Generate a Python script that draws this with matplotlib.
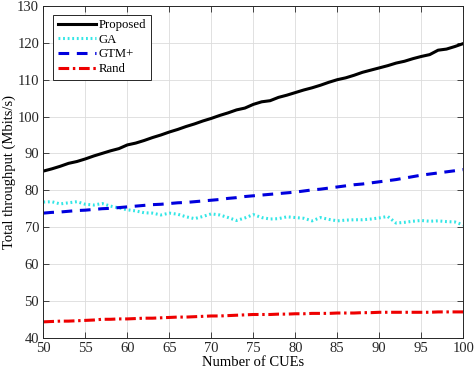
import numpy as np
import matplotlib.pyplot as plt

plt.rcParams['font.family'] = ['Liberation Serif', 'DejaVu Serif']

num_cues = list(range(50, 101))

proposed = [85.2, 85.8, 86.5, 87.3, 87.8, 88.5, 89.3, 90.0, 90.7, 91.3,
            92.3, 92.8, 93.5, 94.3, 95.0, 95.8, 96.5, 97.3, 98.0, 98.8,
            99.5, 100.3, 101.0, 101.8, 102.3, 103.3, 104.0, 104.3, 105.2, 105.8,
            106.5, 107.2, 107.8, 108.5, 109.3, 110.0, 110.5, 111.2, 112.0, 112.6,
            113.2, 113.8, 114.5, 115.0, 115.7, 116.3, 116.8, 118.0, 118.3, 119.0,
            119.8]

ga = [76.8, 76.9, 76.3, 76.6, 76.9, 76.2, 76.0, 76.4, 75.7, 75.2,
      74.7, 74.4, 73.9, 73.8, 73.3, 73.8, 73.5, 72.8, 72.3, 72.9,
      73.6, 73.3, 72.6, 71.8, 72.5, 73.4, 72.6, 72.2, 72.3, 72.8,
      72.6, 72.4, 71.7, 72.6, 72.1, 71.7, 71.9, 72.0, 72.0, 72.2,
      72.5, 72.9, 71.1, 71.3, 71.6, 71.8, 71.6, 71.7, 71.5, 71.4,
      70.6]

gtm = [73.8, 74.0, 74.1, 74.3, 74.5, 74.6, 74.8, 75.0, 75.1, 75.3,
       75.5, 75.7, 75.9, 76.1, 76.2, 76.4, 76.6, 76.7, 76.9, 77.1,
       77.3, 77.5, 77.8, 78.0, 78.3, 78.5, 78.7, 78.9, 79.1, 79.3,
       79.5, 79.8, 80.1, 80.3, 80.6, 80.9, 81.2, 81.5, 81.7, 82.0,
       82.3, 82.6, 82.9, 83.3, 83.7, 84.1, 84.4, 84.7, 85.0, 85.3,
       85.6]

rand = [44.3, 44.4, 44.5, 44.5, 44.6, 44.7, 44.8, 45.0, 45.0, 45.1,
        45.1, 45.2, 45.3, 45.3, 45.4, 45.5, 45.6, 45.6, 45.7, 45.8,
        45.9, 45.9, 46.0, 46.1, 46.2, 46.3, 46.3, 46.3, 46.4, 46.4,
        46.5, 46.5, 46.6, 46.6, 46.6, 46.7, 46.7, 46.7, 46.8, 46.8,
        46.9, 46.9, 46.9, 46.9, 46.9, 46.9, 46.9, 47.0, 47.0, 47.0,
        47.0]

fig = plt.figure(figsize=(4.74, 3.77), dpi=100)
ax = fig.add_axes([0.0914, 0.1042, 0.886, 0.880])

ax.plot(num_cues, proposed, color='black', lw=2.2, label='Proposed')
ax.plot(num_cues, ga, color='#33e6e6', lw=2.2, linestyle=(0, (0.6, 0.9)), label='GA')
ax.plot(num_cues, gtm, color='#0000dd', lw=2.2, linestyle=(0, (3.5, 2.5)), label='GTM+')
ax.plot(num_cues, rand, color='#ee0000', lw=2.2, linestyle=(0, (3.5, 1.2, 0.8, 1.2)), label='Rand')

ax.set_xlim(50, 100)
ax.set_ylim(40, 130)
ax.set_xticks(np.arange(50, 101, 5))
ax.set_yticks(np.arange(40, 131, 10))
ax.tick_params(direction='in', labelsize=10.5, length=4, width=0.6, colors='#262626',
               top=True, right=True, pad=3)
ax.grid(True, color='#dcdcdc', lw=0.6)
for s in ax.spines.values():
    s.set_color('#262626')
    s.set_linewidth(0.7)

ax.set_xlabel('Number of CUEs', fontsize=10.5, labelpad=1)
ax.set_ylabel('Total throughput (Mbits/s)', fontsize=10.5, labelpad=1)

leg = ax.legend(loc='upper left', bbox_to_anchor=(0.024, 0.973), borderaxespad=0,
                fontsize=9.2, fancybox=False, framealpha=1, edgecolor='#262626',
                handlelength=3.0, handletextpad=0.2, labelspacing=0.2,
                borderpad=0.35)
leg.get_frame().set_linewidth(0.7)

fig.savefig('out.png', dpi=100)
